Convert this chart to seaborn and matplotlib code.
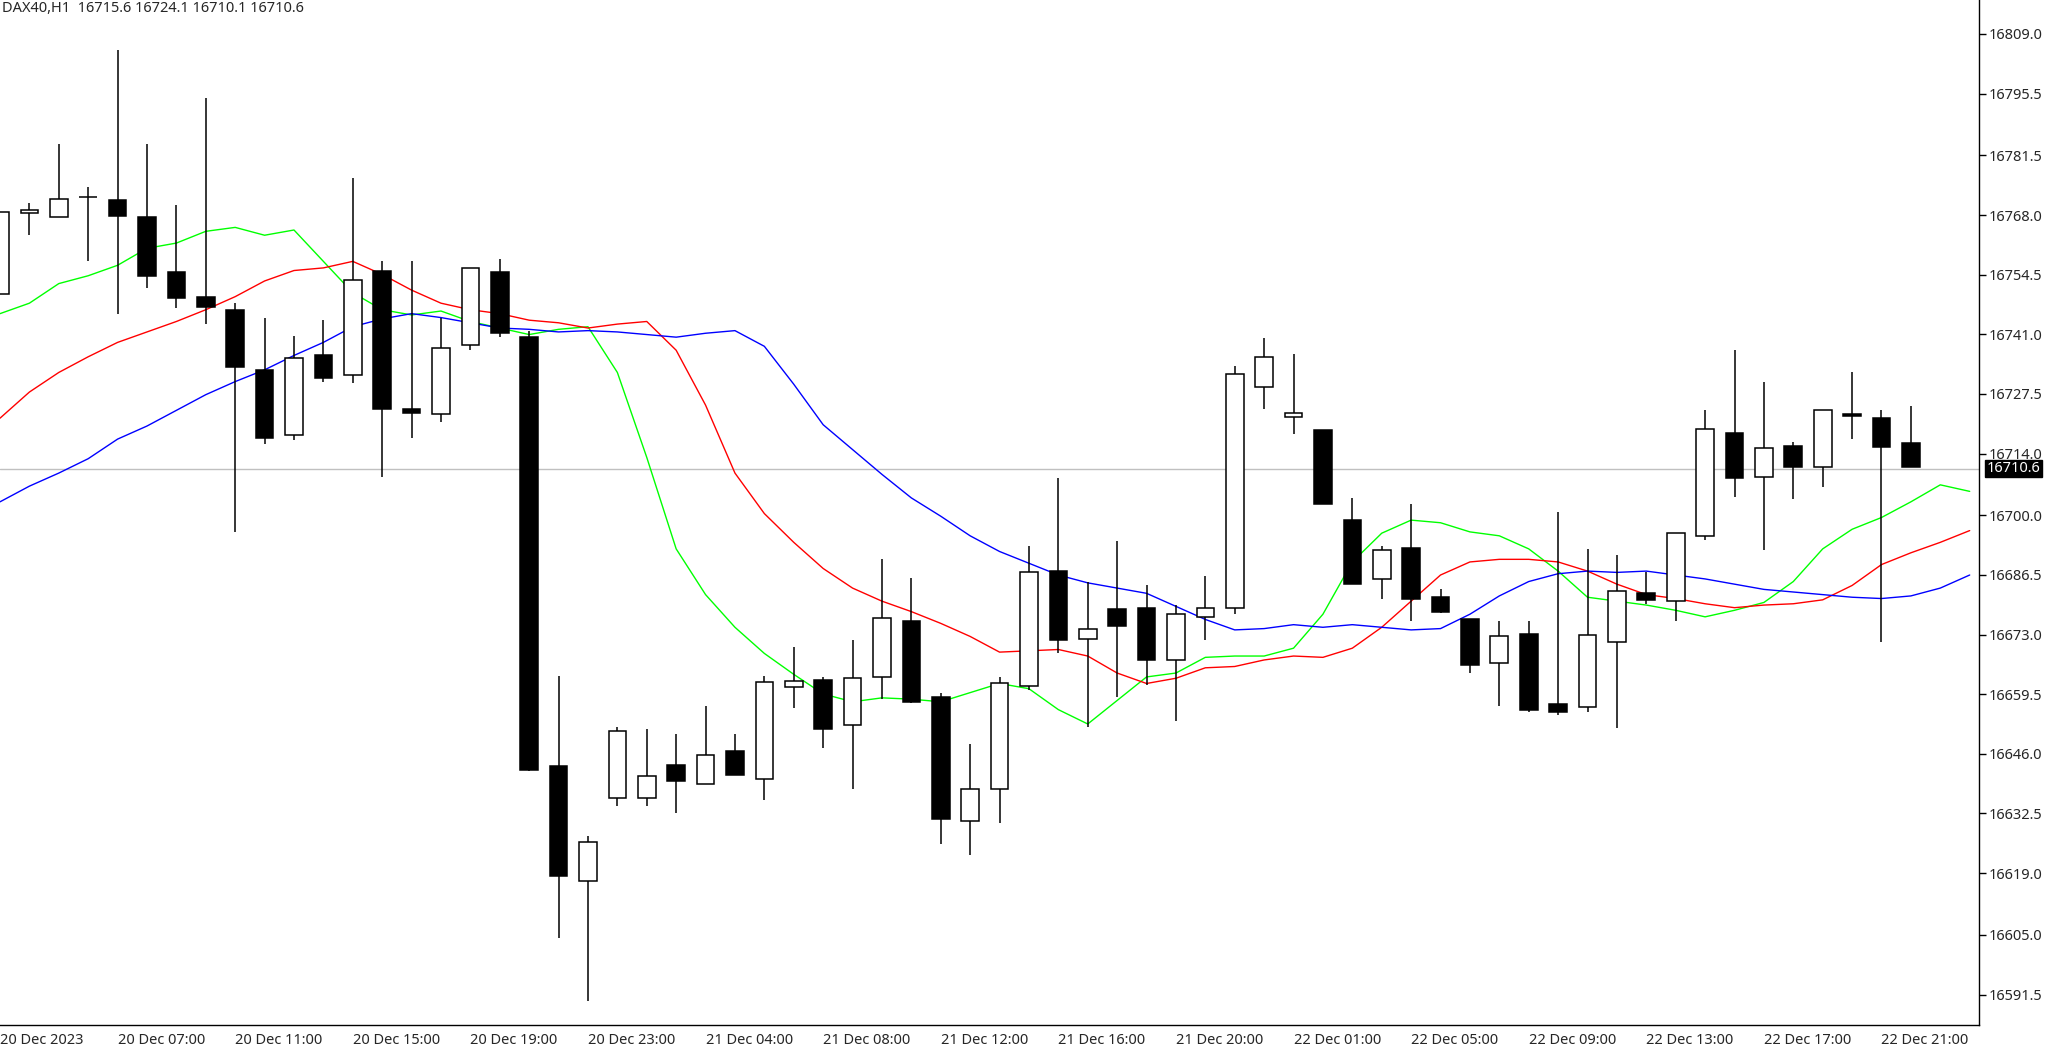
import numpy as np
import pandas as pd
import matplotlib
matplotlib.use("Agg")
import matplotlib.pyplot as plt
import seaborn as sns

# Readings taken on the chart's vertical pixel scale (calibrated to axis labels)
Y_TOP_PX, P_TOP = 26.0, 16809.0
Y_BOT_PX, P_BOT = 761.0, 16591.5
def px2p(a):
    a = np.asarray(a, dtype=float)
    return P_TOP + (a - Y_TOP_PX) * (P_BOT - P_TOP) / (Y_BOT_PX - Y_TOP_PX)

# per candle: open, close, high, low (pixel readings)
opens_px  = [225,163,166,151,153,166,208,227,237,283,333,272,287,207,313,317,264,208,258,586,674,611,611,585,600,575,596,526,520,555,518,475,533,628,604,525,437,489,466,465,505,472,465,296,319,329,398,443,419,457,474,507,485,539,541,491,454,460,410,331,365,341,357,317,320,339]
closes_px = [162,161,152,151,165,211,228,235,281,335,274,289,214,313,316,266,205,255,589,670,644,559,594,598,578,593,522,521,558,519,473,537,627,604,523,438,490,481,479,505,470,465,286,273,316,386,447,421,458,468,509,487,543,545,486,452,459,408,328,366,343,357,314,318,342,357]
highs_px  = [162,155,110,143,38,110,157,75,232,243,257,245,136,200,200,243,205,198,253,517,640,556,558,562,540,562,517,495,518,490,428,442,530,569,518,418,366,445,414,448,463,441,280,259,271,329,381,418,386,451,474,475,475,392,420,425,438,437,314,268,292,338,316,285,314,311]
lows_px   = [225,180,166,200,240,220,236,248,407,340,337,292,293,365,335,323,268,258,590,718,766,617,617,622,600,593,612,542,572,604,535,538,646,654,630,528,500,556,533,524,552,490,470,313,332,386,447,458,475,469,515,540,545,547,545,557,462,475,413,380,421,382,373,336,491,357]

green_px = [240,232,217,211,203,190,186,177,174,180,176,200,224,237,241,238,246,251,256,252,250,285,350,420,455,480,500,516,531,537,534,535,537,530,523,527,543,554,536,518,515,503,502,502,496,470,430,408,398,400,407,410,420,437,457,460,463,467,472,467,461,445,420,405,396,384,371,376]
red_px   = [320,300,285,273,262,254,246,237,227,215,207,205,200,210,222,232,237,240,245,247,251,248,246,268,310,362,393,415,435,450,460,468,477,487,499,498,497,502,515,523,519,511,510,505,502,503,496,480,460,440,430,428,428,430,437,447,455,458,462,465,463,462,459,448,432,423,415,406]
blue_px  = [384,372,362,351,336,326,314,302,292,283,272,262,250,244,240,243,247,251,252,254,253,254,256,258,255,253,265,294,325,344,363,381,395,410,422,431,440,446,450,454,464,474,482,481,478,480,478,480,482,481,470,456,445,439,437,438,437,440,443,447,451,453,455,457,458,456,450,440]

opens, closes, highs, lows = map(px2p, (opens_px, closes_px, highs_px, lows_px))
ma_fast, ma_mid, ma_slow = map(px2p, (green_px, red_px, blue_px))

x_label_idx = [0,4,8,12,16,20,24,28,32,36,40,44,48,52,56,60,64]
x_labels = ["20 Dec 2023","20 Dec 07:00","20 Dec 11:00","20 Dec 15:00","20 Dec 19:00",
            "20 Dec 23:00","21 Dec 04:00","21 Dec 08:00","21 Dec 12:00","21 Dec 16:00",
            "21 Dec 20:00","22 Dec 01:00","22 Dec 05:00","22 Dec 09:00","22 Dec 13:00",
            "22 Dec 17:00","22 Dec 21:00"]
y_ticks = [16809.0,16795.5,16781.5,16768.0,16754.5,16741.0,16727.5,16714.0,16700.0,
           16686.5,16673.0,16659.5,16646.0,16632.5,16619.0,16605.0,16591.5]
last_price = 16710.6
title = "DAX40,H1  16715.6 16724.1 16710.1 16710.6"

sns.set_theme(style="white")
plt.rcParams['font.family'] = ['Noto Sans', 'DejaVu Sans']
FS = 10.5

fig = plt.figure(figsize=(20.48, 10.53), dpi=100)
ax = fig.add_axes([0.0, 0.027, 0.9665, 0.973])

n = len(opens)
idx = np.arange(n)
ax.vlines(idx, lows, highs, color="black", lw=1.1, zorder=2)
up = closes >= opens
bottoms = np.minimum(opens, closes)
heights = np.maximum(np.abs(closes - opens), 0.15)
ax.bar(idx[up], heights[up], bottom=bottoms[up], width=0.6, color="white",
       edgecolor="black", linewidth=1.1, zorder=3)
ax.bar(idx[~up], heights[~up], bottom=bottoms[~up], width=0.6, color="black",
       edgecolor="black", linewidth=1.1, zorder=3)

m = np.arange(len(ma_fast))
df = pd.DataFrame({"i": np.concatenate([m, m, m]),
                   "v": np.concatenate([ma_fast, ma_mid, ma_slow]),
                   "s": ["fast"]*len(m) + ["mid"]*len(m) + ["slow"]*len(m)})
sns.lineplot(data=df, x="i", y="v", hue="s", palette={"fast": "#00ff00", "mid": "#ff0000", "slow": "#0000ff"},
             lw=1.0, legend=False, ax=ax, zorder=1)

ax.axhline(last_price, color="#c0c0c0", lw=1.0, zorder=0)

ax.set_xlim(0, 67.33)
ax.set_ylim(px2p(784), px2p(0))
ax.yaxis.tick_right()
ax.set_yticks(y_ticks)
ax.set_yticklabels([f"{v:.1f}" for v in y_ticks], fontsize=FS)
ax.set_xticks(x_label_idx)
ax.set_xticklabels(x_labels, fontsize=FS, ha="left")
ax.tick_params(axis="both", length=5, width=1, color="black", direction="out", pad=2)
ax.tick_params(axis="x", pad=1)
ax.set_xlabel(""); ax.set_ylabel("")
for s in ["top", "left"]:
    ax.spines[s].set_visible(False)
for s in ["right", "bottom"]:
    ax.spines[s].set_color("black"); ax.spines[s].set_linewidth(1.0)

ax.text(0.001, 0.9995, title, transform=ax.transAxes, ha="left", va="top", fontsize=FS)
ax.annotate(f"{last_price:.1f}", xy=(1.0, last_price), xycoords=("axes fraction", "data"),
            xytext=(5, 0), textcoords="offset points", ha="left", va="center", fontsize=FS,
            color="white", bbox=dict(boxstyle="square,pad=0.1", fc="black", ec="black"))

fig.savefig("out.png", dpi=100, facecolor="white")
